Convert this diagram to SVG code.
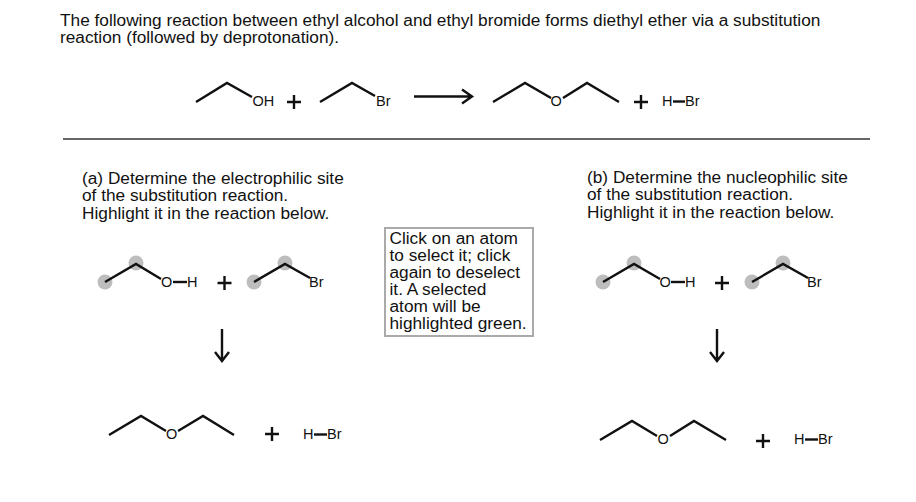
<svg xmlns="http://www.w3.org/2000/svg" width="916" height="502" viewBox="0 0 916 502">
<defs>
<style>
text{font-family:"Liberation Sans",Arial,sans-serif;fill:#111}
.p{font-size:17.25px}
.a{font-size:14.5px}
.b{fill:none;stroke:#111;stroke-width:2.4;stroke-linejoin:miter}
.s{fill:none;stroke:#111;stroke-width:2.4}
.d{fill:#bdbdbd}
</style>
<g id="plus"><path class="s" d="M-7 0H7M0-7V7" stroke-width="3"/></g>
</defs>
<rect width="916" height="502" fill="#fff"/>
<g id="intro"><text class="p" x="60" y="26">The following reaction between ethyl alcohol and ethyl bromide forms diethyl ether via a substitution</text>
<text class="p" x="60" y="43">reaction (followed by deprotonation).</text></g>
<g id="top-reaction">
<path class="b" d="M196 102L227 83L252 97"/><text class="a" x="252.500" y="106">OH</text>
<use href="#plus" x="294" y="102"/>
<path class="b" d="M320 102L352 83L375 96"/><text class="a" x="376" y="106">Br</text>
<path class="s" d="M414 96.500H471M462 89.500L472 96.500L462 103.500"/>
<path class="b" d="M493 102L525 83L551 98"/><text class="a" x="550.500" y="106">O</text><path class="b" d="M563 98L587 83L619 102"/>
<use href="#plus" x="641" y="102"/>
<text class="a" x="662" y="106">H</text><path class="s" d="M673 101.500H685"/><text class="a" x="685" y="106">Br</text>
</g>
<path id="divider" d="M63 139H870" stroke="#333" stroke-width="1.500" fill="none"/>
<g id="question-a">
<text class="p" x="82" y="184">(a) Determine the electrophilic site</text>
<text class="p" x="82" y="201">of the substitution reaction.</text>
<text class="p" x="82" y="219">Highlight it in the reaction below.</text>
</g>
<g id="question-b">
<text class="p" x="587" y="183">(b) Determine the nucleophilic site</text>
<text class="p" x="587" y="200">of the substitution reaction.</text>
<text class="p" x="587" y="218">Highlight it in the reaction below.</text>
</g>
<g id="hint">
<rect x="385" y="228" width="148" height="108" fill="#fff" stroke="#aaa" stroke-width="2"/>
<text class="p" x="389.500" y="244">Click on an atom</text>
<text class="p" x="389.500" y="261">to select it; click</text>
<text class="p" x="389.500" y="278">again to deselect</text>
<text class="p" x="389.500" y="295">it. A selected</text>
<text class="p" x="389.500" y="312">atom will be</text>
<text class="p" x="389.500" y="329">highlighted green.</text>
</g>
<g id="reaction-a">
<circle class="d" cx="105" cy="282" r="7.500"/><circle class="d" cx="136" cy="263" r="7.500"/>
<path class="b" d="M105 282L136 264L161 279"/><text class="a" x="161" y="287">O</text><path class="s" d="M173 282H187"/><text class="a" x="187" y="287">H</text>
<use href="#plus" x="224.500" y="283"/>
<circle class="d" cx="254" cy="282" r="7.500"/><circle class="d" cx="285" cy="263" r="7.500"/>
<path class="b" d="M254 282L285 264L310 278"/><text class="a" x="309" y="287">Br</text>
<path class="s" d="M222 329V360M215 352L222 361L229 352"/>
<path class="b" d="M109 435L141 416L166 431"/><text class="a" x="166" y="439">O</text><path class="b" d="M178 431L203 416L234 435"/>
<use href="#plus" x="272" y="434"/>
<text class="a" x="303" y="439">H</text><path class="s" d="M314 434.500H327"/><text class="a" x="327" y="439">Br</text>
</g>
<g id="reaction-b">
<circle class="d" cx="603" cy="282" r="7.500"/><circle class="d" cx="634" cy="263" r="7.500"/>
<path class="b" d="M603 282L634 264L660 279"/><text class="a" x="659.500" y="287">O</text><path class="s" d="M671 282H685"/><text class="a" x="685" y="287">H</text>
<use href="#plus" x="722" y="283"/>
<circle class="d" cx="752" cy="282" r="7.500"/><circle class="d" cx="783" cy="263" r="7.500"/>
<path class="b" d="M752 282L783 264L808 278"/><text class="a" x="807" y="287">Br</text>
<path class="s" d="M717 329V360M710 352L717 361L724 352"/>
<path class="b" d="M600 440L632 421L657 436"/><text class="a" x="657.500" y="444">O</text><path class="b" d="M670 436L694 421L726 440"/>
<use href="#plus" x="763" y="441"/>
<text class="a" x="794" y="444">H</text><path class="s" d="M805 439.500H818"/><text class="a" x="818" y="444">Br</text>
</g>
</svg>
